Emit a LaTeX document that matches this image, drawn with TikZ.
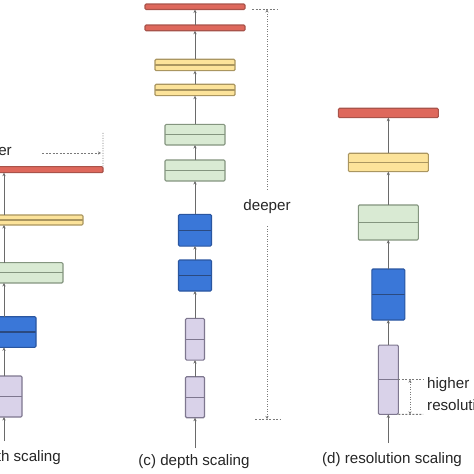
\documentclass[tikz,border=0pt]{standalone}
\usepackage{fontspec}
\setmainfont{Liberation Sans}
\usetikzlibrary{arrows.meta}
\definecolor{redfill}{HTML}{DE685C}
\definecolor{reddraw}{HTML}{A9534A}
\definecolor{yelfill}{HTML}{FCE39A}
\definecolor{yeldraw}{HTML}{AA9660}
\definecolor{grnfill}{HTML}{D9EAD3}
\definecolor{grndraw}{HTML}{84957F}
\definecolor{blufill}{HTML}{3A77D8}
\definecolor{bludraw}{HTML}{2A56A0}
\definecolor{blumid}{HTML}{2B4A80}
\definecolor{purfill}{HTML}{D9D2E9}
\definecolor{purdraw}{HTML}{7E778F}
\definecolor{linegray}{HTML}{6A6A6A}
\definecolor{dimgray}{HTML}{7A7A7A}
\definecolor{textgray}{HTML}{262626}
\tikzset{
  blk/.style={draw, line width=1.1bp, rounded corners=1.2bp, inner sep=0pt, outer sep=0pt},
  midln/.style={path picture={\draw[line width=1.3bp, #1] (path picture bounding box.west) -- (path picture bounding box.east);}},
  redb/.style={blk, fill=redfill, draw=reddraw},
  yelb/.style={blk, fill=yelfill, draw=yeldraw, midln=yeldraw},
  grnb/.style={blk, fill=grnfill, draw=grndraw, midln=grndraw},
  blub/.style={blk, fill=blufill, draw=bludraw, midln=blumid},
  purb/.style={blk, fill=purfill, draw=purdraw, midln=purdraw},
  conn/.style={draw=linegray, line width=1bp, -{Stealth[length=3.5bp,width=3.2bp]}},
  dimv/.style={draw=dimgray, line width=0.9bp, dash pattern=on 1bp off 1.5bp},
  dimh/.style={draw=dimgray, line width=0.9bp, dash pattern=on 2bp off 1.5bp},
  dimtip/.style={-{Stealth[length=3bp,width=3bp]}},
  lbl/.style={text=textgray, font=\fontsize{15.2}{22}\selectfont, inner sep=0pt}
}
\begin{document}
\begin{tikzpicture}[x=1bp,y=-1bp]
\path[use as bounding box, clip] (0,0) rectangle (474,474);
\fill[white] (0,0) rectangle (474,474);

% ---------- (b) width scaling ----------
\node[redb, minimum width=198bp, minimum height=6bp]   (rb) at (4,169.7) {};
\node[yelb, minimum width=158bp, minimum height=10bp]  (yb) at (4,220) {};
\node[grnb, minimum width=118bp, minimum height=20.3bp] (gb) at (4,272.8) {};
\node[blub, minimum width=64bp, minimum height=30.6bp] (bb) at (4,332) {};
\node[purb, minimum width=36bp, minimum height=41bp]   (pb) at (4,396.5) {};
\coordinate (ib) at (4,441);
\draw[conn] (ib) -- (pb.south);
\draw[conn] (pb.north) -- (bb.south);
\draw[conn] (bb.north) -- (gb.south);
\draw[conn] (gb.north) -- (yb.south);
\draw[conn] (yb.north) -- (rb.south);
\node[lbl, anchor=east] (wider) at (12,150) {wider};
\coordinate (wa) at (42,153);
\coordinate (wb) at (101,153);
\draw[dimh, dimtip] (wa) -- (wb);
\coordinate (wt) at (103,133);
\draw[dimv] (wt) -- (rb.north east);
\node[lbl, anchor=east] (capb) at (61,458) {(b) width scaling};

% ---------- (c) depth scaling ----------
\node[redb, minimum width=100bp, minimum height=5.5bp]  (rc1) at (195,6.8) {};
\node[redb, minimum width=100bp, minimum height=5.7bp]  (rc2) at (195,27.9) {};
\node[yelb, minimum width=80bp, minimum height=11.4bp]  (yc1) at (195,65) {};
\node[yelb, minimum width=80bp, minimum height=11.4bp]  (yc2) at (195,90) {};
\node[grnb, minimum width=60bp, minimum height=20.7bp]  (gc1) at (195,134.7) {};
\node[grnb, minimum width=60bp, minimum height=21bp]    (gc2) at (195,170.5) {};
\node[blub, minimum width=33bp, minimum height=31.7bp]  (bc1) at (195,230.2) {};
\node[blub, minimum width=33bp, minimum height=31bp]    (bc2) at (195,275.5) {};
\node[purb, minimum width=19bp, minimum height=41.7bp]  (pc1) at (195,339.2) {};
\node[purb, minimum width=19bp, minimum height=41bp]    (pc2) at (195,397.2) {};
\coordinate (ic) at (195,448);
\draw[conn] (ic) -- (pc2.south);
\draw[conn] (pc2.north) -- (pc1.south);
\draw[conn] (pc1.north) -- (bc2.south);
\draw[conn] (bc2.north) -- (bc1.south);
\draw[conn] (bc1.north) -- (gc2.south);
\draw[conn] (gc2.north) -- (gc1.south);
\draw[conn] (gc1.north) -- (yc2.south);
\draw[conn] (yc2.north) -- (yc1.south);
\draw[conn] (yc1.north) -- (rc2.south);
\draw[conn] (rc2.north) -- (rc1.south);
\node[lbl] (capc) at (194,462) {(c) depth scaling};

\node[lbl] (deeper) at (267,207) {deeper};
\coordinate (dtop) at (267,9.5);
\coordinate (dbot) at (267,419);
\coordinate (dtl) at (252,9.5);
\coordinate (dtr) at (277,9.5);
\coordinate (dbl) at (255,419.5);
\coordinate (dbr) at (281,419.5);
\draw[dimv, dimtip] ([yshift=10bp]deeper.north) -- (dtop);
\draw[dimv, dimtip] ([yshift=-12bp]deeper.south) -- (dbot);
\draw[dimh] (dtl) -- (dtr);
\draw[dimh] (dbl) -- (dbr);

% ---------- (d) resolution scaling ----------
\node[redb, minimum width=100bp, minimum height=9.4bp] (rd) at (388.3,113) {};
\node[yelb, minimum width=80bp, minimum height=18.4bp] (yd) at (388.3,162.5) {};
\node[grnb, minimum width=60bp, minimum height=35bp]   (gd) at (388.3,222.5) {};
\node[blub, minimum width=33bp, minimum height=51bp]   (bd) at (388.3,294.5) {};
\node[purb, minimum width=20bp, minimum height=69.3bp] (pd) at (388.3,379.7) {};
\coordinate (id) at (388.3,443);
\draw[conn] (id) -- (pd.south);
\draw[conn] (pd.north) -- (bd.south);
\draw[conn] (bd.north) -- (gd.south);
\draw[conn] (gd.north) -- (yd.south);
\draw[conn] (yd.north) -- (rd.south);

\coordinate (hm) at (423,379.7);
\coordinate (hb) at (423,414.3);
\coordinate (hvt) at (410,379.7);
\coordinate (hvb) at (410,414.3);
\draw[dimh] (pd.east) -- (hm);
\draw[dimh] (pd.south east) -- (hb);
\draw[dimv, {Stealth[length=3bp,width=3bp]}-{Stealth[length=3bp,width=3bp]}] (hvt) -- (hvb);
\node[lbl, anchor=west, align=left] (hres) at (427,394.5) {higher\\resolution};
\node[lbl, anchor=west] (capd) at (322,460) {(d) resolution scaling};
\end{tikzpicture}
\end{document}
